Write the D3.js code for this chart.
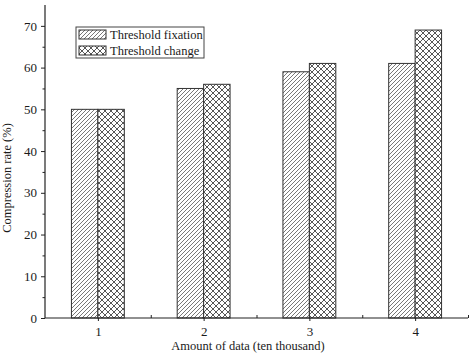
<!DOCTYPE html>
<html><head><meta charset="utf-8">
<script src="https://cdn.jsdelivr.net/npm/d3@7"></script>
<style>body{margin:0;background:#fff}svg{display:block}text{font-family:"Liberation Serif","Times New Roman",serif;fill:#1a1a1a}</style>
</head><body><svg id="c" width="474" height="356"></svg>
<script>
const categories = [1, 2, 3, 4];
const thresholdFixation = [50, 55, 59, 61];
const thresholdChange = [50, 56, 61, 69];
const seriesNames = ["Threshold fixation", "Threshold change"];
const yTicks = [0, 10, 20, 30, 40, 50, 60, 70];

const svg = d3.select("#c");
const x = d3.scaleLinear().domain([0.5, 4.5]).range([45, 468]);
const y = d3.scaleLinear().domain([0, 75]).range([318, 5]);

const defs = svg.append("defs");
const p1 = defs.append("pattern").attr("id", "hatch").attr("patternUnits", "userSpaceOnUse").attr("width", 4).attr("height", 4);
p1.append("rect").attr("width", 4).attr("height", 4).attr("fill", "#fff");
p1.append("path").attr("d", "M-1,1 L1,-1 M0,4 L4,0 M3,5 L5,3").attr("stroke", "#555").attr("stroke-width", 0.8);
const p2 = defs.append("pattern").attr("id", "cross").attr("patternUnits", "userSpaceOnUse").attr("width", 6).attr("height", 6);
p2.append("rect").attr("width", 6).attr("height", 6).attr("fill", "#fff");
p2.append("path").attr("d", "M0,0 L6,6 M6,0 L0,6").attr("stroke", "#444").attr("stroke-width", 0.9);

const data = categories.map((c, i) => ({c, a: thresholdFixation[i], b: thresholdChange[i]}));
const bw = x(0.75) - x(0.5);
const g = svg.append("g");
g.selectAll(".ba").data(data).join("rect")
  .attr("x", d => x(d.c) - bw).attr("y", d => y(d.a))
  .attr("width", bw).attr("height", d => y(0) - y(d.a))
  .attr("fill", "url(#hatch)").attr("stroke", "#333").attr("stroke-width", 1);
g.selectAll(".bb").data(data).join("rect")
  .attr("x", d => x(d.c)).attr("y", d => y(d.b))
  .attr("width", bw).attr("height", d => y(0) - y(d.b))
  .attr("fill", "url(#cross)").attr("stroke", "#333").attr("stroke-width", 1);

// Y axis
const ya = svg.append("g").attr("transform", `translate(${x(0.5)},0)`)
  .call(d3.axisLeft(y).tickValues(yTicks).tickSize(4).tickPadding(4).tickFormat(d3.format("d")));
ya.select(".domain").attr("d", `M0,${y(75)}V${y(0)}`).attr("stroke", "#222").attr("stroke-width", 1.2);
ya.selectAll("text").attr("font-size", 13).attr("font-family", "Liberation Serif");
ya.selectAll("line").attr("stroke", "#222");
svg.append("g").attr("transform", `translate(${x(0.5)},0)`)
  .call(d3.axisLeft(y).tickValues(d3.range(5, 75, 10)).tickSize(2.5).tickFormat(""))
  .call(s => s.select(".domain").remove()).selectAll("line").attr("stroke", "#222");

// X axis
const xa = svg.append("g").attr("transform", `translate(0,${y(0)})`)
  .call(d3.axisBottom(x).tickValues(categories).tickSize(3).tickPadding(6).tickFormat(d3.format("d")));
xa.select(".domain").attr("d", `M${x(0.5)},0H${x(4.5)}`).attr("stroke", "#222").attr("stroke-width", 1.2);
xa.selectAll("text").attr("font-size", 13).attr("font-family", "Liberation Serif");
xa.selectAll("line").attr("stroke", "#222");
svg.append("g").attr("transform", `translate(0,${y(0)})`)
  .call(d3.axisTop(x).tickValues([1.5, 2.5, 3.5, 4.5]).tickSize(3).tickFormat(""))
  .call(s => s.select(".domain").remove()).selectAll("line").attr("stroke", "#222");

// Axis titles
svg.append("text").attr("x", 248).attr("y", 350).attr("text-anchor", "middle").attr("font-size", 12.5)
  .text("Amount of data (ten thousand)");
svg.append("text").attr("transform", "translate(11,178) rotate(-90)").attr("text-anchor", "middle").attr("font-size", 12.5)
  .text("Compression rate (%)");

// Legend
const lg = svg.append("g").attr("transform", "translate(76,27)");
lg.append("rect").attr("width", 128).attr("height", 31).attr("fill", "#fff").attr("stroke", "#444").attr("stroke-width", 1);
const fills = ["url(#hatch)", "url(#cross)"];
seriesNames.forEach((n, i) => {
  lg.append("rect").attr("x", 3).attr("y", 3 + i * 16).attr("width", 27).attr("height", 9)
    .attr("fill", fills[i]).attr("stroke", "#333").attr("stroke-width", 1);
  lg.append("text").attr("x", 34).attr("y", 12 + i * 16).attr("font-size", 12.5).text(n);
});
</script></body></html>
